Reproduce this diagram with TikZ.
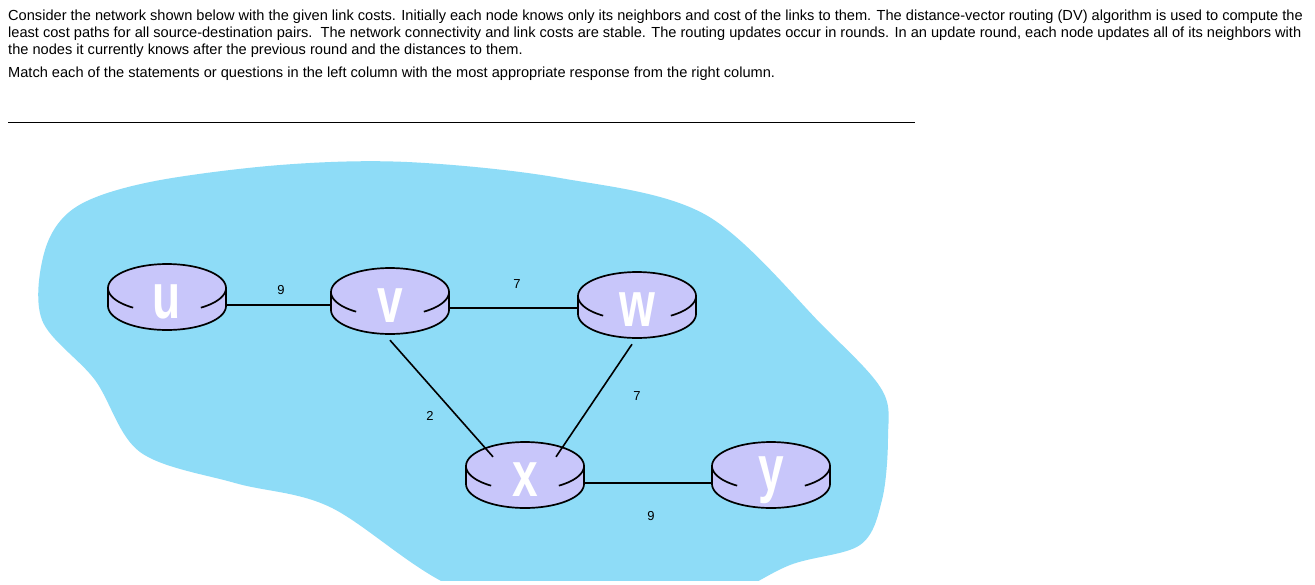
\documentclass[tikz,border=0pt]{standalone}
\usepackage{fontspec}
\setmainfont{Liberation Sans}
\usetikzlibrary{calc}
\definecolor{blob}{RGB}{142,220,247}
\definecolor{rfill}{RGB}{200,198,250}
\tikzset{
  txt/.style={anchor=west,inner sep=0pt,font=\fontsize{14.6}{16}\selectfont},
  cost/.style={font=\fontsize{13}{15}\selectfont},
  link/.style={line width=1.6pt},
  rbox/.style={minimum width=118pt,minimum height=66pt,inner sep=0pt},
  rlab/.style={text=white,font=\bfseries\fontsize{64}{64}\selectfont,xscale=0.72}
}
\newcommand\myrouter[4]{%
  \fill[rfill] plot[domain=0:360,samples=60] ({#2+59*cos(\x)},{#3+24*sin(\x)});
  \fill[rfill] plot[domain=0:360,samples=60] ({#2+59*cos(\x)},{#3+18+24*sin(\x)});
  \fill[rfill] (#2-59,#3) rectangle (#2+59,#3+18);
  \draw[line width=1.7pt] plot[domain=180:360,samples=40] ({#2+59*cos(\x)},{#3+24*sin(\x)});
  \draw[line width=1.7pt] (#2-59,#3) -- (#2-59,#3+18) plot[domain=180:0,samples=40] ({#2+59*cos(\x)},{#3+18+24*sin(\x)}) -- (#2+59,#3);
  \draw[line width=1.7pt] plot[domain=125:180,samples=20] ({#2+59*cos(\x)},{#3+24*sin(\x)});
  \draw[line width=1.7pt] plot[domain=0:55,samples=20] ({#2+59*cos(\x)},{#3+24*sin(\x)});
  \node[rlab] at (#2,#3+14) {#4};
  \node[rbox] (#1) at (#2,#3+15) {};
}
\begin{document}
\begin{tikzpicture}[x=1pt,y=-1pt]
\useasboundingbox (0,0) rectangle (1315,584);
\fill[white] (0,0) rectangle (1315,584);
\begin{scope}
\clip (0,0) rectangle (1315,580);
\fill[blob] plot[smooth cycle,tension=0.55] coordinates {
 (407,162) (560,178) (706,215) (824,327) (882,390) (888,437) (882,500) (860,545)
 (790,565) (720,600) (600,640) (447,584) (330,507) (235,483) (140,452) (95,380)
 (42,320) (45,250) (76,207) (150,182) (280,165)};
\end{scope}
\node[txt] (l1) at (8,17) {Consider the network shown below with the given link costs. Initially each node knows only its neighbors and cost of the links to them. The distance-vector routing (DV) algorithm is used to compute the};
\node[txt] (l2) at (8,34) {least cost paths for all source-destination pairs.\ \ The network connectivity and link costs are stable. The routing updates occur in rounds. In an update round, each node updates all of its neighbors with};
\node[txt] (l3) at (8,51) {the nodes it currently knows after the previous round and the distances to them.};
\node[txt] (l4) at (8,74) {Match each of the statements or questions in the left column with the most appropriate response from the right column.};
\draw[line width=1pt] (8,122) -- (915,122);
\myrouter{u}{167}{288}{u}
\myrouter{v}{390}{292}{v}
\myrouter{w}{637}{296}{w}
\myrouter{x}{525}{466}{x}
\myrouter{y}{771}{466}{y}
\draw[link] ($(u.east)+(0,2)$) -- ($(v.west)+(0,-2)$);
\draw[link] ($(v.east)+(0,1)$) -- ($(w.west)+(0,-3)$);
\draw[link] (v.south) -- ($(x.north)+(-32,9)$);
\draw[link] ($(w.south)+(-5,0)$) -- ($(x.north)+(31,9)$);
\draw[link] ($(x.east)+(0,2)$) -- ($(y.west)+(0,2)$);
\node[cost] (c1) at (281,290) {9};
\node[cost] (c2) at (517,284) {7};
\node[cost] (c3) at (637,396) {7};
\node[cost] (c4) at (430,416) {2};
\node[cost] (c5) at (651,516) {9};
\end{tikzpicture}
\end{document}
